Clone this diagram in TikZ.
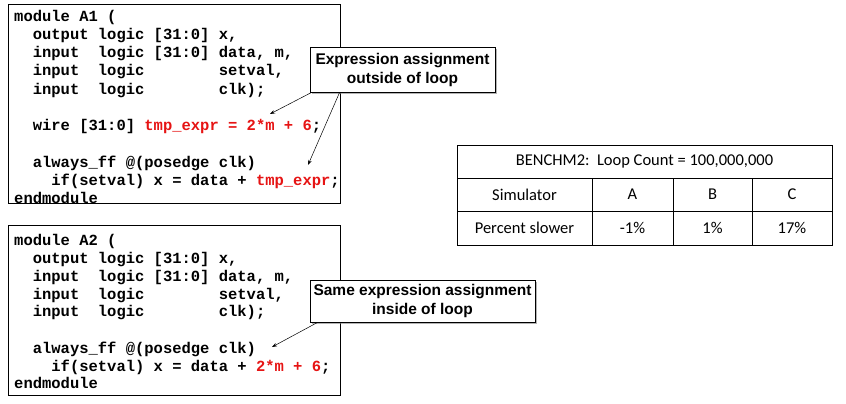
\documentclass[tikz,border=0pt]{standalone}
\usepackage{fontspec}
\setmainfont{Liberation Sans}
\newfontfamily\codefont{Liberation Mono}
\newfontfamily\tabfont{Carlito}
\usetikzlibrary{arrows.meta,shadows}
\definecolor{CodeRed}{RGB}{230,20,20}
\begin{document}
\begin{tikzpicture}[x=1pt,y=-1pt,
  code/.style={anchor=base west,inner sep=0pt,font=\codefont\bfseries\fontsize{15.5}{18}\selectfont},
  callout/.style={draw,fill=white,line width=0.8pt,align=center,inner sep=0pt,
    font=\bfseries\fontsize{15.5}{19}\selectfont,drop shadow={shadow xshift=2pt,shadow yshift=-2pt,opacity=0.6}},
  cell/.style={draw,line width=0.9pt,inner sep=0pt,font=\tabfont\fontsize{16.5}{19}\selectfont},
  pointer/.style={-{Stealth[length=5pt,width=3.5pt]},line width=0.5pt}]
\useasboundingbox (0,0) rectangle (846,404);
% module A1
\draw[line width=0.8pt] (8,4) rectangle (340,203);
\begin{scope}
\clip (8,4) rectangle (340,202);
\node[code] (a1l1) at (14,22) {module A1 (};
\node[code] (a1l2) at (14,40) {~~output logic [31:0] x,};
\node[code] (a1l3) at (14,58) {~~input~~logic [31:0] data, m,};
\node[code] (a1l4) at (14,76) {~~input~~logic~~~~~~~~setval,};
\node[code] (a1l5) at (14,94) {~~input~~logic~~~~~~~~clk);};
\node[code] (a1l6) at (14,130) {~~wire [31:0] \textcolor{CodeRed}{tmp\_expr = 2*m + 6};};
\node[code] (a1l7) at (14,167) {~~always\_ff @(posedge clk)};
\node[code] (a1l8) at (14,185) {~~~~if(setval) x = data + \textcolor{CodeRed}{tmp\_expr};};
\node[code] (a1l9) at (14,203) {endmodule};
\end{scope}
% module A2
\draw[line width=0.8pt] (8,225) rectangle (340,395);
\node[code] (a2l1) at (14,245) {module A2 (};
\node[code] (a2l2) at (14,263) {~~output logic [31:0] x,};
\node[code] (a2l3) at (14,281) {~~input~~logic [31:0] data, m,};
\node[code] (a2l4) at (14,299) {~~input~~logic~~~~~~~~setval,};
\node[code] (a2l5) at (14,316) {~~input~~logic~~~~~~~~clk);};
\node[code] (a2l6) at (14,353) {~~always\_ff @(posedge clk)};
\node[code] (a2l7) at (14,371) {~~~~if(setval) x = data + \textcolor{CodeRed}{2*m + 6};};
\node[code] (a2l8) at (14,388) {endmodule};
% callouts
\node[callout,minimum width=185pt,minimum height=45pt] (c1) at (402.5,69.5) {Expression assignment\\outside of loop};
\node[callout,minimum width=225pt,minimum height=42pt] (c2) at (422.5,301) {Same expression assignment\\inside of loop};
\coordinate (t1) at (270,114);
\coordinate (t2) at (308,165);
\coordinate (t3) at (272,347);
\draw[pointer] ([xshift=2pt]c1.south west) -- (t1);
\draw[pointer] ([xshift=30pt]c1.south west) -- (t2);
\draw[pointer] ([xshift=8pt]c2.south west) -- (t3);
% table
\node[cell,minimum width=375pt,minimum height=33pt] (th) at (644.5,161.5) {BENCHM2:\ \ Loop Count = 100,000,000};
\node[cell,minimum width=135pt,minimum height=33pt] (r1c0) at (524.5,194.5) {Simulator};
\node[cell,minimum width=81pt,minimum height=33pt] (r1c1) at (632.5,194.5) {A};
\node[cell,minimum width=79pt,minimum height=33pt] (r1c2) at (712.5,194.5) {B};
\node[cell,minimum width=80pt,minimum height=33pt] (r1c3) at (792,194.5) {C};
\node[cell,minimum width=135pt,minimum height=34pt] (r2c0) at (524.5,228) {Percent slower};
\node[cell,minimum width=81pt,minimum height=34pt] (r2c1) at (632.5,228) {-1\%};
\node[cell,minimum width=79pt,minimum height=34pt] (r2c2) at (712.5,228) {1\%};
\node[cell,minimum width=80pt,minimum height=34pt] (r2c3) at (792,228) {17\%};
\end{tikzpicture}
\end{document}
